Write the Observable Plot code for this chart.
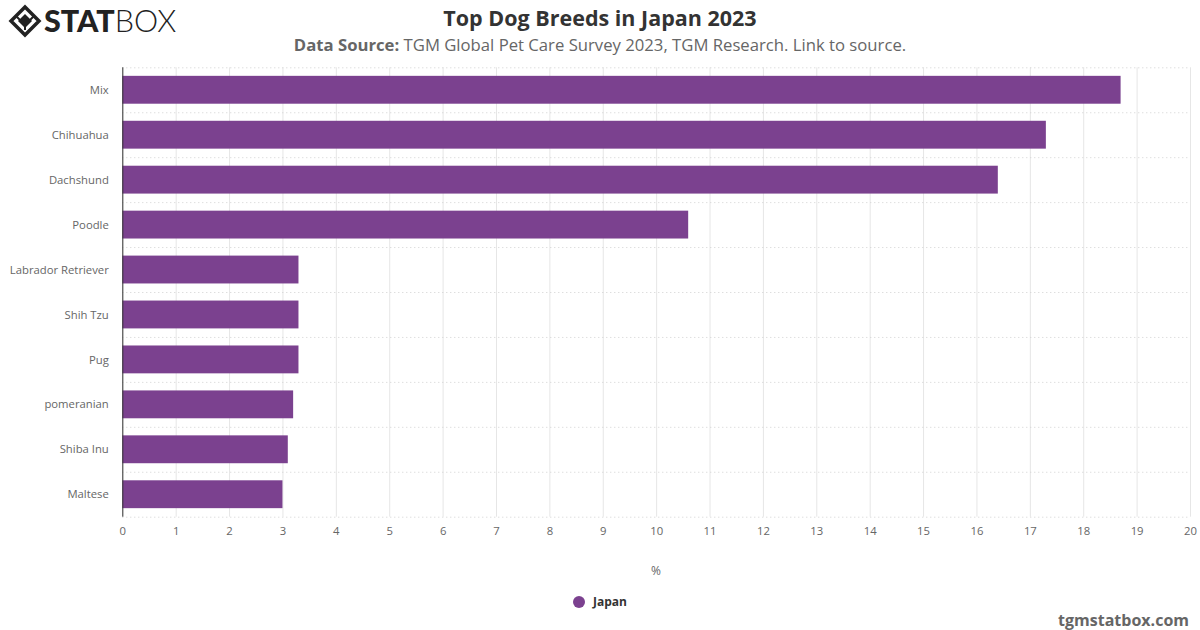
<!DOCTYPE html>
<html><head><meta charset="utf-8">
<script src="https://cdn.jsdelivr.net/npm/d3@7"></script>
<script src="https://cdn.jsdelivr.net/npm/@observablehq/plot@0.6"></script>
<style>
body{margin:0;background:#fff;width:1200px;height:630px;position:relative;overflow:hidden;font-family:"Open Sans",sans-serif;}
.abs{position:absolute;}
#title{top:3px;left:0;width:1200px;text-align:center;font-size:21.5px;line-height:30px;font-weight:700;color:#333;}
#subtitle{top:33px;left:0;width:1200px;text-align:center;font-size:16.7px;line-height:24px;color:#666;}
#subtitle b{font-weight:700;}
#chart{top:60px;left:0;}
#xlabel{top:561px;left:606px;width:100px;text-align:center;font-size:12px;line-height:20px;color:#666;}
#legend{top:593px;left:0;width:1200px;display:flex;justify-content:center;align-items:center;font-size:12px;font-weight:700;color:#333;}
#legend .dot{width:12px;height:12px;border-radius:50%;margin-right:8px;}
#footer{top:608px;right:11px;font-size:16px;line-height:24px;font-weight:700;color:#666;}
</style></head><body>
<svg class="abs" style="top:0;left:0" width="200" height="45">
  <g transform="translate(25,21)">
    <path d="M0,-14 L14,0 L0,14 L-14,0 Z" fill="none" stroke="#222" stroke-width="3.5"/>
    <path d="M0,-7 L7,0 L0,7 L-7,0 Z" fill="#222"/>
    <path d="M-9,-5 L-4,0 M9,-5 L4,0 M0,9 L0,5" stroke="#222" stroke-width="2"/>
  </g>
  <text x="44" y="32" font-family="Lato" font-weight="900" font-size="30.5" fill="#222">STAT<tspan font-weight="300">BOX</tspan></text>
</svg>
<div id="title" class="abs">Top Dog Breeds in Japan 2023</div>
<div id="subtitle" class="abs"><b>Data Source:</b> TGM Global Pet Care Survey 2023, TGM Research. Link to source.</div>
<div id="chart" class="abs"></div>
<div id="xlabel" class="abs">%</div>
<div id="legend" class="abs"><span class="dot" id="legdot"></span><span id="legname"></span></div>
<div id="footer" class="abs">tgmstatbox.com</div>
<script>
const breeds = ["Mix","Chihuahua","Dachshund","Poodle","Labrador Retriever","Shih Tzu","Pug","pomeranian","Shiba Inu","Maltese"];
const shares = [18.7,17.3,16.4,10.6,3.3,3.3,3.3,3.2,3.1,3.0];
const xTicks = [0,1,2,3,4,5,6,7,8,9,10,11,12,13,14,15,16,17,18,19,20];
const seriesName = "Japan";
const barColor = "#7b418f";

const data = breeds.map((b, i) => ({breed: b, value: shares[i]}));
const H = 475, mt = 7.3, mb = 18.3;
const step = (H - mt - mb) / breeds.length;

const chart = Plot.plot({
  width: 1200, height: H,
  marginLeft: 122.3, marginRight: 10, marginTop: mt, marginBottom: mb,
  style: {fontFamily: '"Open Sans", sans-serif', fontSize: "11.3px", color: "#666", background: "transparent", overflow: "visible"},
  x: {domain: [xTicks[0], xTicks[xTicks.length - 1]], label: null},
  y: {domain: breeds, padding: 0, round: false, label: null},
  marks: [
    Plot.gridX(xTicks, {stroke: "#e6e6e6", strokeOpacity: 1}),
    Plot.ruleY(breeds, {y: d => d, dy: -step / 2, stroke: "#d0d0d0", strokeDasharray: "1,3"}),
    Plot.ruleY([breeds[breeds.length - 1]], {y: d => d, dy: step / 2, stroke: "#d0d0d0", strokeDasharray: "1,3"}),
    Plot.barX(data, {x: "value", y: "breed", fill: barColor, insetTop: step * 0.19, insetBottom: step * 0.19}),
    Plot.ruleX([0], {stroke: "#333"}),
    Plot.axisX(xTicks, {tickSize: 0, tickPadding: 10, label: null, tickFormat: d => String(d)}),
    Plot.axisY({tickSize: 0, tickPadding: 14, label: null})
  ]
});
document.getElementById("chart").appendChild(chart);
document.getElementById("legdot").style.background = barColor;
document.getElementById("legname").textContent = seriesName;
</script>
</body></html>
